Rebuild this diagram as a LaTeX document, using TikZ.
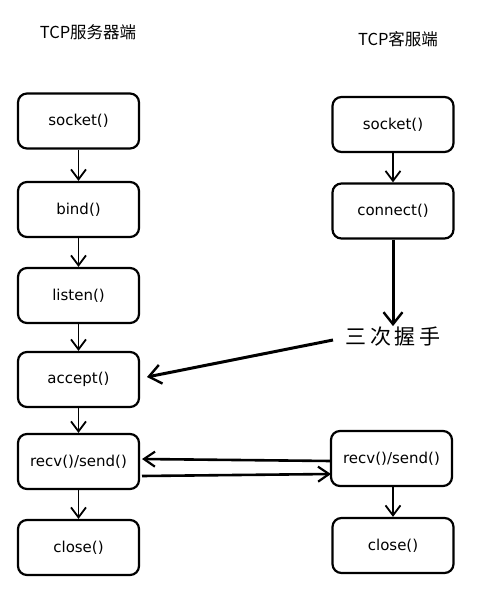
\documentclass[tikz,border=0pt]{standalone}
\usepackage{fontspec}
\setmainfont{DejaVu Sans}
\newfontfamily\cjkfont{Noto Sans CJK SC}
\usetikzlibrary{arrows.meta}
\tikzset{
  boxnode/.style={draw, line width=2.2pt, rounded corners=9pt, minimum width=121pt, minimum height=55pt, inner sep=0pt, font=\fontsize{15}{17}\selectfont},
  flow/.style={draw, line width=1.9pt, -{Straight Barb[length=10pt, width=15pt, line width=1.8pt]}},
  bigflow/.style={draw, line width=3pt, -{Straight Barb[length=12pt, width=19pt, line width=2.4pt]}},
  midflow/.style={draw, line width=2.6pt, -{Straight Barb[length=11pt, width=15pt, line width=2.2pt]}},
  titlenode/.style={font=\cjkfont\fontsize{16.5}{18}\selectfont},
}
\begin{document}
\begin{tikzpicture}[x=1pt, y=-1pt]
\useasboundingbox (0,0) rectangle (492,593);
\fill[white] (0,0) rectangle (492,593);
% titles
\node[titlenode] (tl) at (88,32) {TCP服务器端};
\node[titlenode] (tr) at (398,39) {TCP客服端};
% server column
\node[boxnode] (s1) at (78.5,121) {socket()};
\node[boxnode] (s2) at (78.5,209.5) {bind()};
\node[boxnode] (s3) at (78.5,295.5) {listen()};
\node[boxnode] (s4) at (78.5,379.5) {accept()};
\node[boxnode] (s5) at (78.5,461.5) {recv()/send()};
\node[boxnode] (s6) at (78.5,547.5) {close()};
% client column
\node[boxnode] (c1) at (393,124.5) {socket()};
\node[boxnode] (c2) at (393,211) {connect()};
\node[boxnode] (c5) at (391.5,458.5) {recv()/send()};
\node[boxnode] (c6) at (393,545.5) {close()};
% handshake label
\node[font=\cjkfont\fontsize{21}{23}\selectfont, inner sep=1pt] (hs) at (393,337) {三\,次\,握\,手};
% vertical arrows
\draw[flow] (s1.south) -- (s2.north);
\draw[flow] (s2.south) -- (s3.north);
\draw[flow] (s3.south) -- (s4.north);
\draw[flow] (s4.south) -- (s5.north);
\draw[flow] (s5.south) -- (s6.north);
\draw[flow] (c1.south) -- (c2.north);
\draw[flow] (c5.south -| c6.north) -- (c6.north);
% handshake arrows
\draw[bigflow] (c2.south) -- (hs.north);
\coordinate (hsl) at (333,340);
\coordinate (acc) at (147,377);
\draw[bigflow] (hsl) -- (acc);
% data exchange
\coordinate (ct) at (331,461);
\coordinate (st) at (142,459);
\coordinate (sb) at (142,476);
\coordinate (cb) at (331,474);
\draw[midflow] (ct) -- (st);
\draw[midflow] (sb) -- (cb);
\end{tikzpicture}
\end{document}
